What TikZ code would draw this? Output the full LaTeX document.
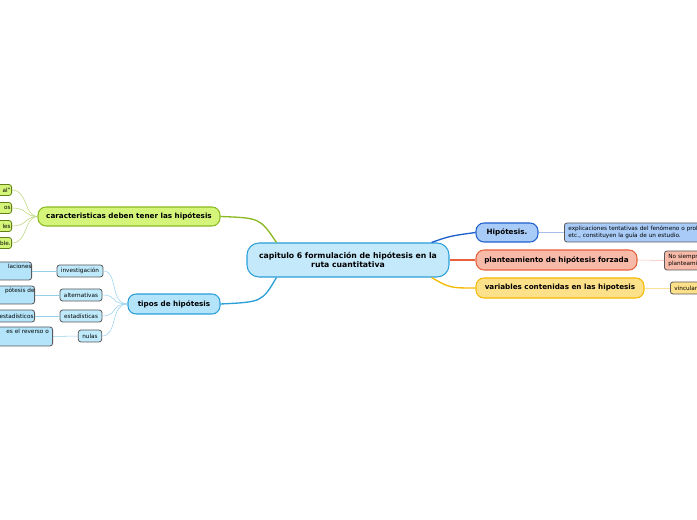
\documentclass[tikz,border=0pt]{standalone}
\usepackage{fontspec}
\setmainfont{DejaVu Sans}
\tikzset{
  >=latex,
  topic/.style={draw,rounded corners=6pt,line width=0.8pt,inner sep=0pt,font=\bfseries\fontsize{5.4}{6.8}\selectfont},
  sub/.style={draw=gray!70!black,rounded corners=2pt,line width=0.6pt,fill=cyan!25,inner sep=0pt,font=\fontsize{4.3}{5.2}\selectfont},
  leaf/.style={draw=gray!70!black,rounded corners=2pt,line width=0.6pt,inner sep=0pt,font=\fontsize{4.3}{5.2}\selectfont,align=left},
}
\definecolor{centralfill}{HTML}{C4E9FA}
\definecolor{centraldraw}{HTML}{2A9FD8}
\definecolor{greenfill}{HTML}{D4F57A}
\definecolor{greendraw}{HTML}{8AB923}
\definecolor{bluefill}{HTML}{A8CBF7}
\definecolor{bluedraw}{HTML}{1E5FCC}
\definecolor{redfill}{HTML}{F7B9A8}
\definecolor{reddraw}{HTML}{E8603C}
\definecolor{yelfill}{HTML}{FDE08A}
\definecolor{yeldraw}{HTML}{F3B800}
\definecolor{tipofill}{HTML}{B3E4FA}
\begin{document}
\begin{tikzpicture}[x=0.75pt,y=-0.75pt]
  \useasboundingbox (0,0) rectangle (697,520);
  \clip (0,0) rectangle (697,520);
  % central topic
  \node[topic,draw=centraldraw,fill=centralfill,minimum width=202*0.75pt,minimum height=34*0.75pt,align=center,rounded corners=9pt,font=\bfseries\fontsize{5.8}{7.4}\selectfont] (root) at (348,260)
    {capitulo 6 formulación de hipótesis en la\\ruta cuantitativa};
  % left branches
  \node[topic,draw=greendraw,fill=greenfill,minimum width=182*0.75pt,minimum height=19*0.75pt] (carac) at (129,216.5) {caracteristicas deben tener las hipótesis};
  \node[topic,draw=centraldraw,fill=tipofill,minimum width=92*0.75pt,minimum height=20*0.75pt] (tipos) at (174,304) {tipos de hipótesis};
  \draw[greendraw,line width=1pt] (root.north west) ++(30,0) coordinate (r1) .. controls (260,218) .. (carac.east);
  \draw[centraldraw,line width=1pt] (root.south west) ++(30,0) coordinate (r2) .. controls (262,302) .. (tipos.east);
  % green leaves
  \foreach \y/\t [count=\i] in {190/al",208/os,226/les,243/ble.}{
    \node[leaf,fill=greenfill,draw=greendraw!70!black,minimum height=11*0.75pt,anchor=east,text width=30pt,align=right] (g\i) at (12,\y) {\t\,};
    \draw[greendraw!60] (g\i.east) .. controls (28,\y) and (24,216.5) .. (carac.west);
  }
  % tipos sub-topics
  \foreach \x/\y/\t/\n in {80/271/investigación/inv,81/295/alternativas/alt,81/316/estadísticas/est,90/336/nulas/nul}{
    \node[sub,minimum height=12*0.75pt,inner xsep=3pt] (\n) at (\x,\y) {\t};
    \draw[centraldraw!50] (\n.east) .. controls (118,\y) and (110,304) .. (tipos.west);
  }
  \node[leaf,fill=tipofill,minimum height=18*0.75pt,anchor=east,text width=40pt,align=right] (invl) at (32,271) {laciones\ \ \\[2pt]\mbox{}};
  \node[leaf,fill=tipofill,minimum height=18*0.75pt,anchor=east,text width=40pt,align=right] (altl) at (35,295) {pótesis de\ \ \\[2pt]\mbox{}};
  \node[leaf,fill=tipofill,minimum height=12*0.75pt,anchor=east,text width=45pt,align=right] (estl) at (35,316) {estadísticos\,};
  \node[leaf,fill=tipofill,minimum height=19*0.75pt,anchor=east,text width=60pt,align=right] (nul l) at (53,336.5) {es el reverso o\ \ \ \ \\[2pt]\mbox{}};
  \draw[centraldraw!50] (invl.east) -- (inv.west);
  \draw[centraldraw!50] (altl.east) -- (alt.west);
  \draw[centraldraw!50] (estl.east) -- (est.west);
  \draw[centraldraw!50] (nul l.east) -- (nul.west);
  % right branches
  \node[topic,draw=bluedraw,fill=bluefill,minimum width=62*0.75pt,minimum height=19*0.75pt] (hip) at (507,232.5) {Hipótesis.};
  \node[topic,draw=reddraw,fill=redfill,minimum width=161*0.75pt,minimum height=20*0.75pt] (plan) at (556.5,260) {planteamiento de hipótesis forzada};
  \node[topic,draw=yeldraw,fill=yelfill,minimum width=168*0.75pt,minimum height=20*0.75pt] (vari) at (560,288) {variables contenidas en las hipotesis};
  \draw[bluedraw,line width=1pt] (root.north east) ++(-18,0) .. controls (450,236) .. (hip.west);
  \draw[reddraw,line width=1pt] (root.east) -- (plan.west);
  \draw[yeldraw,line width=1pt] (root.south east) ++(-18,0) .. controls (450,288) .. (vari.west);
  % right leaves
  \node[leaf,fill=bluefill,anchor=west,minimum height=19*0.75pt,text width=150pt,inner xsep=3pt] (hipl) at (564,232.5)
    {explicaciones tentativas del fenómeno o problema investigado\\etc., constituyen la guía de un estudio.};
  \node[leaf,fill=redfill,anchor=west,minimum height=19*0.75pt,text width=60pt,inner xsep=3pt] (planl) at (664,260.5)
    {No siempre se\\planteamiento};
  \node[leaf,fill=yelfill,anchor=west,minimum height=12*0.75pt,text width=60pt,inner xsep=3pt] (varil) at (670,288) {vinculan};
  \draw[bluedraw!40] (hip.east) -- (hipl.west);
  \draw[reddraw!40] (plan.east) -- (planl.west);
  \draw[yeldraw!40] (vari.east) -- (varil.west);
\end{tikzpicture}
\end{document}
